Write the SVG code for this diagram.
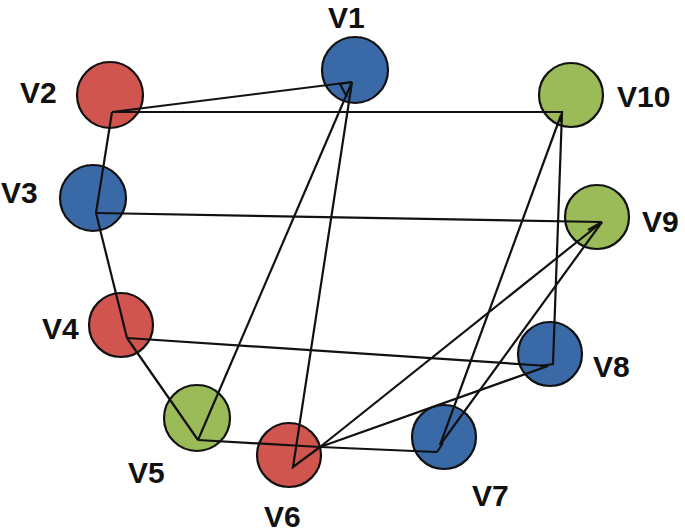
<svg xmlns="http://www.w3.org/2000/svg" width="685" height="532" viewBox="0 0 685 532">
<style>
.n{stroke:#111;stroke-width:2.2}
.r{fill:#D0554F}
.b{fill:#3A69A8}
.g{fill:#9BBB59}
.lbl{font-family:"Liberation Sans",Arial,sans-serif;font-size:30px;font-weight:bold;fill:#111}
.e{fill:none;stroke:#111;stroke-width:2.2;stroke-linejoin:miter}
</style>
<rect width="685" height="532" fill="#fff"/>
<g id="V1"><circle class="n b" cx="355" cy="70" r="33"/><text class="lbl" x="328" y="28">V1</text></g>
<g id="V2"><circle class="n r" cx="110" cy="95" r="33"/><text class="lbl" x="20" y="103">V2</text></g>
<g id="V3"><circle class="n b" cx="93" cy="198" r="33"/><text class="lbl" x="1" y="203">V3</text></g>
<g id="V4"><circle class="n r" cx="121" cy="325" r="32"/><text class="lbl" x="42" y="339">V4</text></g>
<g id="V5"><circle class="n g" cx="197" cy="418" r="33"/><text class="lbl" x="128" y="483">V5</text></g>
<g id="V6"><circle class="n r" cx="289" cy="455" r="32"/><text class="lbl" x="264" y="527">V6</text></g>
<g id="V7"><circle class="n b" cx="444" cy="437" r="32"/><text class="lbl" x="472" y="506">V7</text></g>
<g id="V8"><circle class="n b" cx="550" cy="354" r="32"/><text class="lbl" x="593" y="377">V8</text></g>
<g id="V9"><circle class="n g" cx="597" cy="217" r="32"/><text class="lbl" x="642" y="232">V9</text></g>
<g id="V10"><circle class="n g" cx="571" cy="95" r="32"/><text class="lbl" x="617" y="107">V10</text></g>
<g id="edges">
<path class="e" d="M112 112 L352 82"/>
<path class="e" d="M112 112 L562 112 L561 122"/>
<path class="e" d="M112 112 L96 213"/>
<path class="e" d="M96 213 L602 222"/>
<path class="e" d="M96 213 L127 338"/>
<path class="e" d="M127 338 L198 440"/>
<path class="e" d="M127 338 L548 366"/>
<path class="e" d="M352 82 L198 440"/>
<path class="e" d="M352 82 L340 84 L347 97"/>
<path class="e" d="M352 82 L293 467 L320 447"/>
<path class="e" d="M198 440 L320 447"/>
<path class="e" d="M320 447 L602 222"/>
<path class="e" d="M320 447 L548 366"/>
<path class="e" d="M320 447 L437 452"/>
<path class="e" d="M561 115 L440 445"/>
<path class="e" d="M602 222 L440 445"/>
<path class="e" d="M562 112 L553 364 L540 366"/>
<path class="e" d="M602 222 L588 230"/>
<path class="e" d="M437 452 L443 443"/>
</g>
</svg>
